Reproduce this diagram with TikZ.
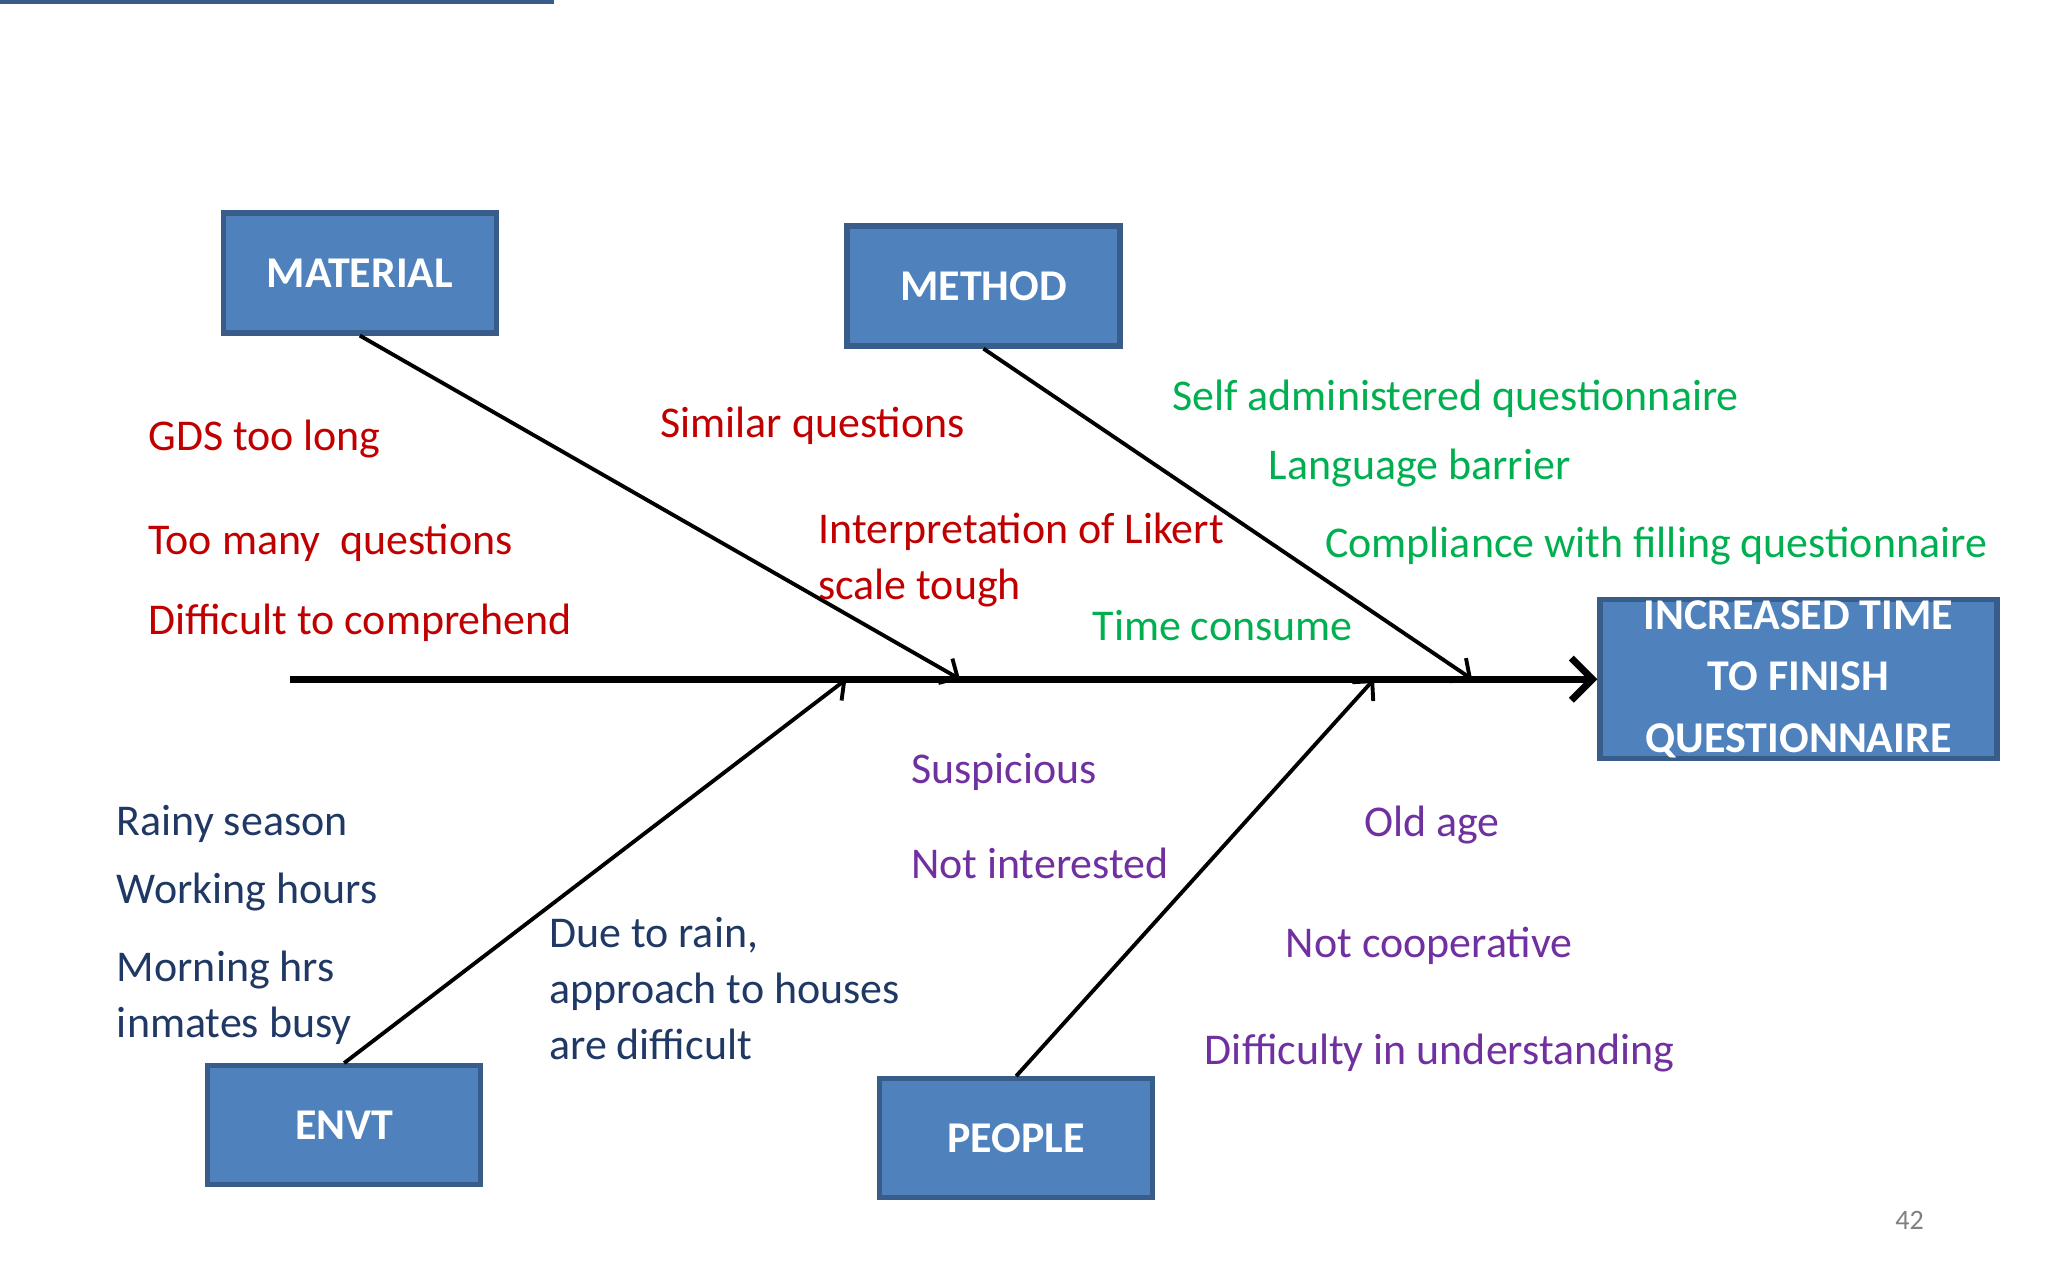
\documentclass[tikz,border=0pt]{standalone}
\usepackage{fontspec}
\setmainfont{Carlito}
\usetikzlibrary{arrows.meta}
\definecolor{boxfill}{HTML}{4F81BD}
\definecolor{boxline}{HTML}{385D8A}
\definecolor{cred}{HTML}{C00000}
\definecolor{cgreen}{HTML}{00B050}
\definecolor{cnavy}{HTML}{1F3864}
\definecolor{cpurple}{HTML}{7030A0}
\tikzset{
  cat/.style={draw=boxline,line width=1.5pt,fill=boxfill,text=white,font=\bfseries\fontsize{12.5}{15}\selectfont,inner sep=0pt,align=center},
  lbl/.style={anchor=west,font=\fontsize{12.5}{15}\selectfont,inner sep=0pt,align=left},
  bone/.style={line width=1.1pt,-{Straight Barb[length=4pt,width=8pt]}},
}
\begin{document}
\begin{tikzpicture}[x=0.013061cm,y=-0.013061cm]
\useasboundingbox (0,0) rectangle (1568,979);
\node[cat,minimum width=209\pgflinewidth] at (0,0) {};
\node[cat,minimum width=2.73cm,minimum height=1.2cm] (mat) at (275.5,209) {MATERIAL};
\node[cat,minimum width=2.73cm,minimum height=1.2cm] (met) at (753,219) {METHOD};
\node[cat,minimum width=2.73cm,minimum height=1.19cm] (env) at (263.5,861.5) {ENVT};
\node[cat,minimum width=2.73cm,minimum height=1.19cm] (peo) at (778,871.5) {PEOPLE};
\node[cat,minimum width=3.97cm,minimum height=1.59cm,font=\bfseries\fontsize{12.5}{17.5}\selectfont] (res) at (1377,520) {INCREASED TIME\\TO FINISH\\QUESTIONNAIRE};
\coordinate (s) at (222,520);
\coordinate (jm) at (735,520);
\coordinate (jt) at (1127,520);
\coordinate (je) at (648,520);
\coordinate (jp) at (1052,520);
\draw[line width=2pt,-{Straight Barb[length=6pt,width=12pt]}] (s) -- (res.west);
\draw[bone] (mat.south) -- (jm);
\draw[bone] (met.south) -- (jt);
\draw[bone] (env.north) -- (je);
\draw[bone] (peo.north) -- (jp);
\node[lbl,text=cred] (t1) at (113,336) {GDS too long};
\node[lbl,text=cred] (t2) at (113,416) {Too many\ \ questions};
\node[lbl,text=cred] (t3) at (113,477) {Difficult to comprehend};
\node[lbl,text=cred] (t4) at (505,326) {Similar questions};
\node[lbl,text=cred,font=\fontsize{12.5}{16}\selectfont] (t5) at (626,429) {Interpretation of Likert\\scale tough};
\node[lbl,text=cgreen] (g1) at (897,305) {Self administered questionnaire};
\node[lbl,text=cgreen] (g2) at (971,358) {Language barrier};
\node[lbl,text=cgreen] (g3) at (1014,418) {Compliance with filling questionnaire};
\node[lbl,text=cgreen] (g4) at (836,479) {Time consume};
\node[lbl,text=cnavy] (n1) at (89,631) {Rainy season};
\node[lbl,text=cnavy] (n2) at (89,683) {Working hours};
\node[lbl,text=cnavy,font=\fontsize{12.5}{16}\selectfont] (n3) at (89,764) {Morning hrs\\inmates busy};
\node[lbl,text=cnavy,font=\fontsize{12.5}{16}\selectfont] (n4) at (420,757) {Due to rain,\\approach to houses\\are difficult};
\node[lbl,text=cpurple] (p1) at (697,591) {Suspicious};
\node[lbl,text=cpurple] (p2) at (697,661) {Not interested};
\node[lbl,text=cpurple] (p3) at (1044,632) {Old age};
\node[lbl,text=cpurple] (p4) at (984,724) {Not cooperative};
\node[lbl,text=cpurple] (p5) at (922,806) {Difficulty in understanding};
\node[text=gray,font=\fontsize{8}{10}\selectfont] (pg) at (1462,934) {42};
\end{tikzpicture}
\end{document}
